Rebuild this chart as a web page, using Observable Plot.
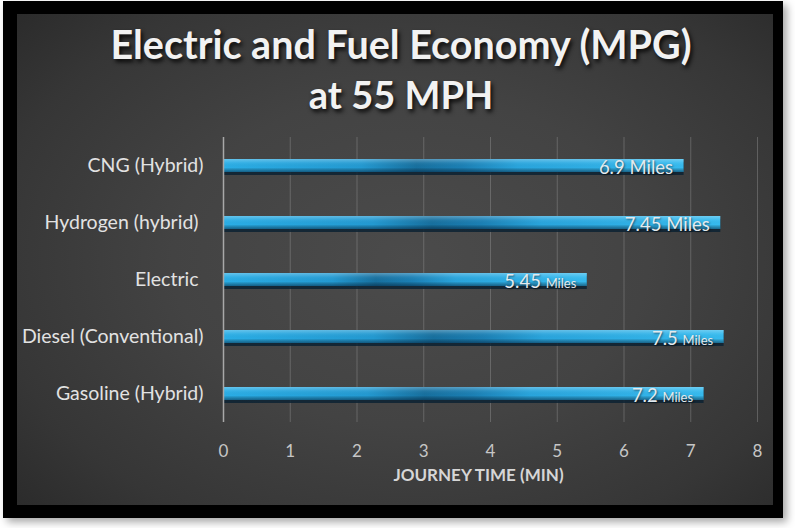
<!DOCTYPE html>
<html><head><meta charset="utf-8">
<script src="https://cdn.jsdelivr.net/npm/d3@7"></script>
<script src="https://cdn.jsdelivr.net/npm/@observablehq/plot@0.6"></script>
<style>
html,body{margin:0;padding:0;background:#fff;width:795px;height:528px;overflow:hidden}
#frame{position:absolute;left:3px;top:1px;width:780px;height:517px;background:#000;box-shadow:4px 4px 8px rgba(0,0,0,0.35)}
#panel{position:absolute;left:14px;top:13px;width:756px;height:491px;overflow:hidden;
  background:radial-gradient(ellipse 70% 75% at 52% 50%, #4b4b4b 0%, #434343 45%, #363636 80%, #2b2b2b 100%)}
#title{position:absolute;left:6px;top:5px;width:100%;text-align:center;font-family:Lato,"Open Sans",sans-serif;font-weight:700;font-size:39.5px;line-height:50px;color:#f2f2f2;text-shadow:2px 3px 4px rgba(0,0,0,.85)}
#title .l2{font-size:38px}
#chart{position:absolute;left:0;top:0}
svg text{white-space:pre}
</style></head>
<body><div id="frame"><div id="panel"><div id="chart"></div><div id="title">Electric and Fuel Economy (MPG)<br><span class="l2">at 55 MPH</span></div></div></div>
<script>
const categories = ["CNG (Hybrid)", "Hydrogen (hybrid) ", "Electric ", "Diesel (Conventional)", "Gasoline (Hybrid)"];
const values = [6.9, 7.45, 5.45, 7.5, 7.2];
const unitLabel = "Miles";
const xTicks = [0, 1, 2, 3, 4, 5, 6, 7, 8];
const xLabel = "JOURNEY TIME (MIN)";

const data = categories.map((c, i) => ({fuel: c, value: values[i]}));
// styling: which labels show the unit at full size
const bigUnit = new Set([categories[0], categories[1]]);

const defs = () => {
  const g = d3.create("svg:g");
  const d = g.append("defs");
  const h = d.append("linearGradient").attr("id", "barH").attr("x1", 0).attr("x2", 1).attr("y1", 0).attr("y2", 0);
  [[0, "#2aaee6"], [0.3, "#239ad2"], [0.42, "#17709f"], [0.52, "#1b80b5"], [0.64, "#29a5dd"], [1, "#36bbef"]]
    .forEach(([o, c]) => h.append("stop").attr("offset", o).attr("stop-color", c));
  const v = d.append("linearGradient").attr("id", "barV").attr("x1", 0).attr("x2", 0).attr("y1", 0).attr("y2", 1);
  [[0, "rgba(255,255,255,0.28)"], [0.3, "rgba(255,255,255,0.06)"], [0.65, "rgba(0,0,0,0)"], [1, "rgba(0,25,50,0.5)"]]
    .forEach(([o, c]) => v.append("stop").attr("offset", o).attr("stop-color", c));
  return g.node();
};

const plot = Plot.plot({
  width: 756, height: 491,
  marginLeft: 206, marginRight: 16, marginTop: 123, marginBottom: 83,
  style: {background: "transparent", fontFamily: "Lato, 'Open Sans', sans-serif", color: "#ddd"},
  x: {domain: [0, 8], ticks: xTicks},
  y: {domain: categories, paddingInner: 0.78, paddingOuter: 0.39},
  marks: [
    defs,
    Plot.gridX(xTicks.filter(t => t > 0), {stroke: "#9a9a9a", strokeOpacity: 0.4}),
    Plot.barX(data, {x: "value", y: "fuel", fill: "#0c2233", fillOpacity: 0.85, dy: 3}),
    Plot.barX(data, {x: "value", y: "fuel", fill: "url(#barH)"}),
    Plot.barX(data, {x: "value", y: "fuel", fill: "url(#barV)"}),
    Plot.ruleX([0], {stroke: "#a8a8a8", strokeWidth: 1.5}),
    Plot.axisX({ticks: xTicks, tickSize: 0, tickPadding: 22, fontSize: 17, fill: "#c6c6c6", label: null}),
    Plot.axisY({tickSize: 0, tickPadding: 20, fontSize: 19.5, fill: "#e2e2e2", label: null}),
    Plot.text(data, {x: "value", y: "fuel", text: d => `${d.value} ${unitLabel}`, textAnchor: "end",
      dx: -11, dy: 2, fill: "#e2eaef", fontSize: 18.5}),
    Plot.text([xLabel], {frameAnchor: "bottom", dx: -12, dy: 58, fontSize: 17, fontWeight: "bold", fill: "#d6d6d6"})
  ]
});

// split each value label into a number and a unit with its own size
d3.select(plot).selectAll("text")
  .filter(function() { return this.textContent.endsWith(" " + unitLabel); })
  .each(function() {
    const t = d3.select(this);
    const [num, unit] = this.textContent.split(" ");
    const i = values.findIndex(v => String(v) === num);
    t.text(null).style("text-shadow", "1px 1px 2px rgba(0,0,0,0.5)");
    t.append("tspan").text(num + " ");
    t.append("tspan").text(unit).style("font-size", bigUnit.has(categories[i]) ? "18.5px" : "13px");
  });

document.getElementById("chart").append(plot);
</script>
</body></html>
